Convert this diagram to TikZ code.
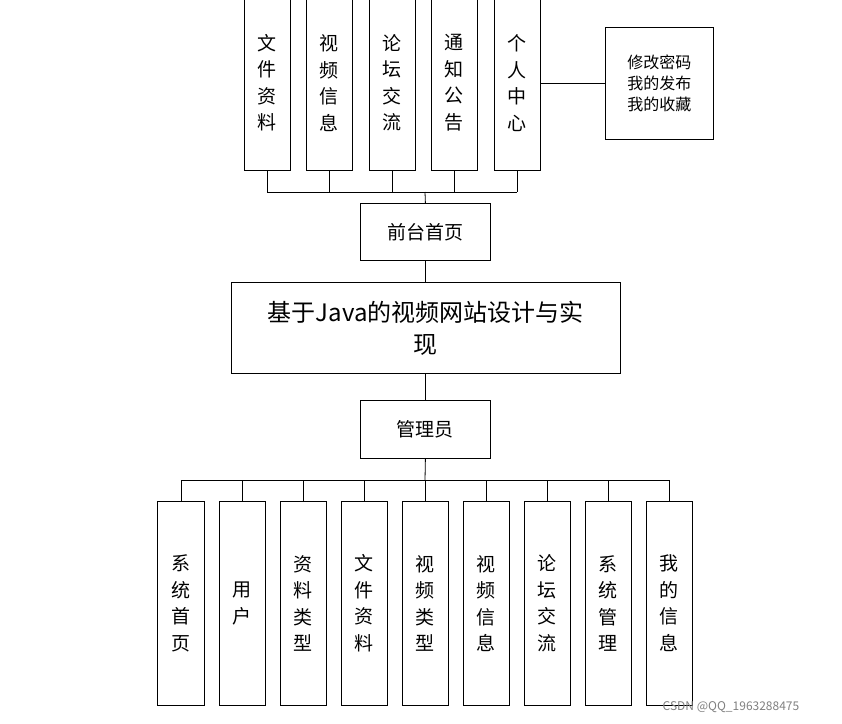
\documentclass[tikz,border=0pt]{standalone}
\usepackage{fontspec}
\setmainfont{Noto Sans CJK SC}
\begin{document}
\begin{tikzpicture}[x=1pt,y=-1pt,
  bx/.style={draw,line width=0.8pt,anchor=north west,inner sep=0pt,font=\fontsize{19}{26.5}\selectfont,align=center},
  ln/.style={line width=0.8pt}]
\useasboundingbox (0,0) rectangle (842,723);
\newcommand\mybox[6]{\node[bx,minimum width=#4,minimum height=#5] (#1) at (#2,#3) {#6};}
% top
\mybox{t1}{244}{-5}{46}{175}{文\\件\\资\\料}
\mybox{t2}{306}{-5}{46}{175}{视\\频\\信\\息}
\mybox{t3}{369}{-5}{46}{175}{论\\坛\\交\\流}
\mybox{t4}{431}{-5}{46}{175}{通\\知\\公\\告}
\mybox{t5}{494}{-5}{46}{175}{个\\人\\中\\心}
\node[bx,minimum width=108,minimum height=112,font=\fontsize{16}{21}\selectfont] (sd) at (605,27) {修改密码\\我的发布\\我的收藏};
\draw[ln] (t5.east|-sd.west) -- (sd.west);
\mybox{qt}{360}{203}{130}{57}{前台首页}
\node[bx,minimum width=389,minimum height=91,font=\fontsize{24}{32}\selectfont,text width=375] (mn) at (231,282) {基于Java的视频网站设计与实\\现};
\mybox{gl}{360}{400}{130}{58}{管理员}
\coordinate (b1) at (425,192);
\foreach \n in {t1,t2,t3,t4,t5}{\draw[ln] (\n.south) -- (\n.south|-b1);}
\draw[ln] (t1.south|-b1) -- (t5.south|-b1);
\draw[ln] (b1) -- (qt.north);
\draw[ln] (qt.south) -- (mn.north-|qt.south);
\draw[ln] (mn.south-|gl.north) -- (gl.north);
% bottom
\mybox{m1}{157}{501}{47}{204}{系\\统\\首\\页}
\mybox{m2}{219}{501}{46}{204}{用\\户}
\mybox{m3}{280}{501}{46}{204}{资\\料\\类\\型}
\mybox{m4}{341}{501}{46}{204}{文\\件\\资\\料}
\mybox{m5}{402}{501}{46}{204}{视\\频\\类\\型}
\mybox{m6}{463}{501}{46}{204}{视\\频\\信\\息}
\mybox{m7}{524}{501}{46}{204}{论\\坛\\交\\流}
\mybox{m8}{585}{501}{46}{204}{系\\统\\管\\理}
\mybox{m9}{646}{501}{46}{204}{我\\的\\信\\息}
\coordinate (b2) at (425,480);
\draw[ln] (gl.south) -- (b2);
\draw[ln] (m1.north|-b2) -- (m9.north|-b2);
\foreach \n in {m1,m2,m3,m4,m5,m6,m7,m8,m9}{\draw[ln] (\n.north|-b2) -- (\n.north);}
\node[text=gray,font=\fontsize{12}{14}\selectfont] (wm) at (731,707) {CSDN @QQ\_1963288475};
\end{tikzpicture}
\end{document}
